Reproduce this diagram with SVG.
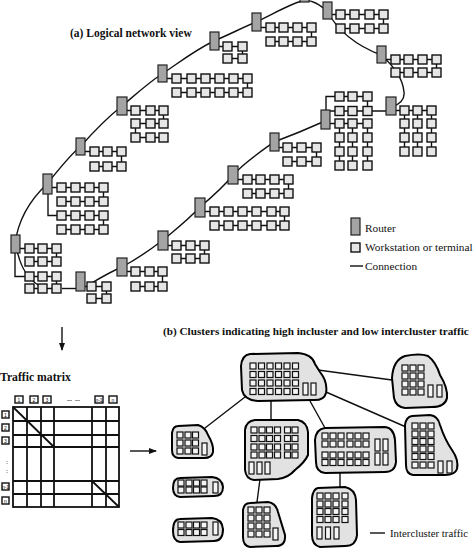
<svg xmlns="http://www.w3.org/2000/svg" xmlns:xlink="http://www.w3.org/1999/xlink" width="474" height="548" viewBox="0 0 474 548">
<style>
.ws{fill:#e6e6e6;stroke:#111;stroke-width:1.4}
.rt{fill:#a4a4a4;stroke:#222;stroke-width:1.2}
.ln{fill:none;stroke:#111;stroke-width:1.4}
.cl{fill:#e2e2e2;stroke:#000;stroke-width:2}
.sq{fill:#f4f4f4;stroke:#111;stroke-width:1.2}
.mx{fill:none;stroke:#111;stroke-width:1.8}
.hd{fill:#fff;stroke:#111;stroke-width:1.4}
.t{font-family:"Liberation Serif","Times New Roman",serif;fill:#111}
.b{font-weight:bold}
.tiny{font-family:"Liberation Sans",Arial,sans-serif;font-size:5px;fill:#111;text-anchor:middle}
</style>
<defs>
<rect id="w" width="9" height="9" class="ws"/>
<rect id="s" width="6" height="6" class="sq"/>
<rect id="tr" width="5" height="12" class="sq"/>
<marker id="ah" viewBox="0 0 8 8" refX="7" refY="4" markerWidth="8" markerHeight="8" orient="auto" markerUnits="userSpaceOnUse"><path d="M0,1 L8,4 L0,7 Z" fill="#111"/></marker>
</defs>
<rect width="474" height="548" fill="#fff"/>

<text class="t b" x="70" y="37" font-size="11.5">(a) Logical network view</text>

<g id="connectors">
<path class="ln" d="M15,244 C18,220 30,200 47,184 C60,168 70,155 80,147 C95,130 108,117 122,106 C135,95 148,83 162,74 C180,62 195,50 214,41 C228,35 242,28 256,22 C275,13 290,4 302,1 C312,-1 320,5 327,11 C340,35 360,47 381,55 C396,68 403,80 404,92 C405,100 400,104 392,107"/>
<path class="ln" d="M391,111 H330"/>
<path class="ln" d="M325,121 C305,130 290,136 274,142 C260,152 245,162 233,175 C225,185 212,197 200,207 C188,220 175,230 163,240 C150,250 135,260 122,267 C110,272 100,278 90,284"/>
<path class="ln" d="M62,288.5 H78"/>
<path class="ln" d="M17,250 C20,265 28,282 45,288.5"/>
<path class="ln" d="M20,248.5 H56.5 V261.5 H29.5 M15,253 V276.5 H56.5 V288.5 H29.5"/>
<path class="ln" d="M52,187.5 H103.5 V201.5 H61.5 M48,194 V215.5 H103.5 V229.5 H61.5"/>
<path class="ln" d="M85,151.5 H121.5 V166.5 H94.5"/>
<path class="ln" d="M127,110.5 H163.5 V123.5 H135.5 V137.5 H163.5"/>
<path class="ln" d="M167,78.5 H247.5 V92.5 H176.5"/>
<path class="ln" d="M219,46.5 H242.5 V58.5 H227.5"/>
<path class="ln" d="M261,27.5 H311.5 V41.5 H270.5"/>
<path class="ln" d="M332,14.5 H383.5 V28.5 H340.5"/>
<path class="ln" d="M386,59.5 H436.5 V72.5 H395.5"/>
<path class="ln" d="M396,110.5 H431.5 M404.5,110 V151.5 M417.5,110 V151.5 M431.5,110 V151.5"/>
<path class="ln" d="M326,110 V96.5 H367.5 V111 M330,123.5 H367.5 M339.5,123.5 V165.5 M352.5,123.5 V165.5 M367.5,123.5 V165.5"/>
<path class="ln" d="M279,147.5 H316.5 V161.5 H287.5"/>
<path class="ln" d="M238,179.5 H288.5 V193.5 H247.5"/>
<path class="ln" d="M205,211.5 H284.5 V225.5 H214.5"/>
<path class="ln" d="M168,245.5 H204.5 V258.5 H176.5"/>
<path class="ln" d="M127,271.5 H162.5 V286.5 H135.5"/>
<path class="ln" d="M85,286.5 H106.5 V298.5 H91.5"/>
<path class="ln" d="M62,327 V350" marker-end="url(#ah)"/>
<path class="ln" d="M130,451 H156" marker-end="url(#ah)"/>
<path class="ln" d="M318,370 L392,380 M326,392 L406,427 M310,401 L325,428 M271,401 V420 M245,397 L205,428 M340,472 V488 M260,479 L257,502"/>
</g>

<g id="r0"><rect class="rt" x="300" y="-15" width="9" height="17"/></g>
<g id="r1"><rect class="rt" x="11" y="235" width="9" height="18"/>
<use href="#w" x="25" y="244"/><use href="#w" x="38" y="244"/><use href="#w" x="52" y="244"/>
<use href="#w" x="25" y="257"/><use href="#w" x="38" y="257"/><use href="#w" x="52" y="257"/>
<use href="#w" x="25" y="272"/><use href="#w" x="38" y="272"/><use href="#w" x="52" y="272"/>
<use href="#w" x="25" y="284"/><use href="#w" x="38" y="284"/><use href="#w" x="52" y="284"/></g>
<g id="r2"><rect class="rt" x="43" y="174" width="9" height="20"/>
<use href="#w" x="57" y="183"/><use href="#w" x="71" y="183"/><use href="#w" x="85" y="183"/><use href="#w" x="99" y="183"/>
<use href="#w" x="57" y="197"/><use href="#w" x="71" y="197"/><use href="#w" x="85" y="197"/><use href="#w" x="99" y="197"/>
<use href="#w" x="57" y="211"/><use href="#w" x="71" y="211"/><use href="#w" x="85" y="211"/><use href="#w" x="99" y="211"/>
<use href="#w" x="57" y="225"/><use href="#w" x="71" y="225"/><use href="#w" x="85" y="225"/><use href="#w" x="99" y="225"/></g>
<g id="r3"><rect class="rt" x="76" y="138" width="9" height="17"/>
<use href="#w" x="90" y="147"/><use href="#w" x="103" y="147"/><use href="#w" x="117" y="147"/>
<use href="#w" x="90" y="162"/><use href="#w" x="103" y="162"/><use href="#w" x="117" y="162"/></g>
<g id="r4"><rect class="rt" x="117" y="97" width="10" height="18"/>
<use href="#w" x="131" y="106"/><use href="#w" x="146" y="106"/><use href="#w" x="159" y="106"/>
<use href="#w" x="131" y="119"/><use href="#w" x="146" y="119"/><use href="#w" x="159" y="119"/>
<use href="#w" x="131" y="133"/><use href="#w" x="146" y="133"/><use href="#w" x="159" y="133"/></g>
<g id="r5"><rect class="rt" x="158" y="65" width="9" height="17"/>
<use href="#w" x="172" y="74"/><use href="#w" x="187" y="74"/><use href="#w" x="201" y="74"/><use href="#w" x="215" y="74"/><use href="#w" x="229" y="74"/><use href="#w" x="243" y="74"/>
<use href="#w" x="172" y="88"/><use href="#w" x="187" y="88"/><use href="#w" x="201" y="88"/><use href="#w" x="215" y="88"/><use href="#w" x="229" y="88"/><use href="#w" x="243" y="88"/></g>
<g id="r6"><rect class="rt" x="210" y="32" width="9" height="18"/>
<use href="#w" x="223" y="42"/><use href="#w" x="238" y="42"/>
<use href="#w" x="223" y="54"/><use href="#w" x="238" y="54"/></g>
<g id="r7"><rect class="rt" x="252" y="13" width="9" height="18"/>
<use href="#w" x="266" y="23"/><use href="#w" x="279" y="23"/><use href="#w" x="293" y="23"/><use href="#w" x="307" y="23"/>
<use href="#w" x="266" y="37"/><use href="#w" x="279" y="37"/><use href="#w" x="293" y="37"/><use href="#w" x="307" y="37"/></g>
<g id="r8"><rect class="rt" x="323" y="2" width="9" height="17"/>
<use href="#w" x="336" y="10"/><use href="#w" x="350" y="10"/><use href="#w" x="365" y="10"/><use href="#w" x="379" y="10"/>
<use href="#w" x="336" y="24"/><use href="#w" x="350" y="24"/><use href="#w" x="365" y="24"/><use href="#w" x="379" y="24"/></g>
<g id="r9"><rect class="rt" x="377" y="46" width="9" height="17"/>
<use href="#w" x="391" y="55"/><use href="#w" x="404" y="55"/><use href="#w" x="418" y="55"/><use href="#w" x="432" y="55"/>
<use href="#w" x="391" y="68"/><use href="#w" x="404" y="68"/><use href="#w" x="418" y="68"/><use href="#w" x="432" y="68"/></g>
<g id="r10"><rect class="rt" x="386" y="97" width="10" height="18"/>
<use href="#w" x="400" y="106"/><use href="#w" x="413" y="106"/><use href="#w" x="427" y="106"/>
<use href="#w" x="400" y="119"/><use href="#w" x="413" y="119"/><use href="#w" x="427" y="119"/>
<use href="#w" x="400" y="133"/><use href="#w" x="413" y="133"/><use href="#w" x="427" y="133"/>
<use href="#w" x="400" y="147"/><use href="#w" x="413" y="147"/><use href="#w" x="427" y="147"/></g>
<g id="r11"><rect class="rt" x="321" y="110" width="9" height="19"/>
<use href="#w" x="335" y="92"/><use href="#w" x="348" y="92"/><use href="#w" x="363" y="92"/>
<use href="#w" x="335" y="106.5"/><use href="#w" x="348" y="106.5"/><use href="#w" x="363" y="106.5"/>
<use href="#w" x="335" y="119"/><use href="#w" x="348" y="119"/><use href="#w" x="363" y="119"/>
<use href="#w" x="335" y="133"/><use href="#w" x="348" y="133"/><use href="#w" x="363" y="133"/>
<use href="#w" x="335" y="147"/><use href="#w" x="348" y="147"/><use href="#w" x="363" y="147"/>
<use href="#w" x="335" y="161"/><use href="#w" x="348" y="161"/><use href="#w" x="363" y="161"/></g>
<g id="r12"><rect class="rt" x="270" y="133" width="9" height="18"/>
<use href="#w" x="283" y="143"/><use href="#w" x="297" y="143"/><use href="#w" x="312" y="143"/>
<use href="#w" x="283" y="157"/><use href="#w" x="297" y="157"/><use href="#w" x="312" y="157"/></g>
<g id="r13"><rect class="rt" x="228" y="166" width="10" height="18"/>
<use href="#w" x="243" y="175"/><use href="#w" x="256" y="175"/><use href="#w" x="270" y="175"/><use href="#w" x="284" y="175"/>
<use href="#w" x="243" y="189"/><use href="#w" x="256" y="189"/><use href="#w" x="270" y="189"/><use href="#w" x="284" y="189"/></g>
<g id="r14"><rect class="rt" x="195" y="198" width="10" height="19"/>
<use href="#w" x="210" y="207"/><use href="#w" x="224" y="207"/><use href="#w" x="238" y="207"/><use href="#w" x="252" y="207"/><use href="#w" x="267" y="207"/><use href="#w" x="280" y="207"/>
<use href="#w" x="210" y="221"/><use href="#w" x="224" y="221"/><use href="#w" x="238" y="221"/><use href="#w" x="252" y="221"/><use href="#w" x="267" y="221"/><use href="#w" x="280" y="221"/></g>
<g id="r15"><rect class="rt" x="158" y="231" width="10" height="19"/>
<use href="#w" x="172" y="241"/><use href="#w" x="186" y="241"/><use href="#w" x="200" y="241"/>
<use href="#w" x="172" y="254"/><use href="#w" x="186" y="254"/><use href="#w" x="200" y="254"/></g>
<g id="r16"><rect class="rt" x="117" y="258" width="10" height="18"/>
<use href="#w" x="131" y="267"/><use href="#w" x="145" y="267"/><use href="#w" x="158" y="267"/>
<use href="#w" x="131" y="282"/><use href="#w" x="145" y="282"/><use href="#w" x="158" y="282"/></g>
<g id="r17"><rect class="rt" x="76" y="272" width="9" height="19"/>
<use href="#w" x="87" y="282"/><use href="#w" x="102" y="282"/>
<use href="#w" x="87" y="294"/><use href="#w" x="102" y="294"/></g>

<g id="legend-a">
<rect class="rt" x="351" y="218" width="9" height="17"/>
<text class="t" x="365" y="232" font-size="11.3">Router</text>
<rect class="ws" x="351" y="243" width="9" height="9"/>
<text class="t" x="365" y="251" font-size="11.3">Workstation or terminal</text>
<path class="ln" d="M350,266 H363"/>
<text class="t" x="365" y="270" font-size="11.3">Connection</text>
</g>

<g id="matrix">
<text class="t b" x="0" y="381" font-size="11.7">Traffic matrix</text>
<rect class="mx" x="13" y="407" width="106" height="100"/>
<path class="mx" d="M27,407 V507 M41,407 V507 M54,407 V507 M92,407 V507 M106,407 V507 M13,421 H119 M13,435 H119 M13,447 H119 M13,481 H119 M13,494 H119 M13,407 L54,447 M92,481 L119,507"/>
<rect class="hd" x="15" y="396" width="8" height="7"/><text class="tiny" x="19" y="401.5">1</text>
<rect class="hd" x="30" y="396" width="8" height="7"/><text class="tiny" x="34" y="401.5">2</text>
<rect class="hd" x="43" y="396" width="8" height="7"/><text class="tiny" x="47" y="401.5">3</text>
<path d="M67,400.5 H72 M75,400.5 H80" stroke="#999" stroke-width="1"/>
<rect class="hd" x="95" y="396" width="8" height="7"/><text class="tiny" x="99" y="401.5" font-size="4">n-1</text>
<rect class="hd" x="109" y="396" width="8" height="7"/><text class="tiny" x="113" y="401.5">n</text>
<rect class="hd" x="2" y="411" width="7" height="7"/><text class="tiny" x="5.5" y="416.5">1</text>
<rect class="hd" x="2" y="424" width="7" height="7"/><text class="tiny" x="5.5" y="429.5">2</text>
<rect class="hd" x="2" y="437" width="7" height="7"/><text class="tiny" x="5.5" y="442.5">3</text>
<text class="t" x="6" y="464" font-size="7" fill="#999">:</text>
<text class="t" x="6" y="473" font-size="7" fill="#999">:</text>
<rect class="hd" x="2" y="483" width="7" height="7"/><text class="tiny" x="5.5" y="488.5" font-size="4">n-1</text>
<rect class="hd" x="2" y="497" width="7" height="7"/><text class="tiny" x="5.5" y="502.5">n</text>
</g>

<text class="t b" x="163" y="335" font-size="11.2">(b) Clusters indicating high incluster and low intercluster traffic</text>

<g id="c1"><path class="cl" d="M250,354 L298,353 Q312,354 315,364 L320,372 Q328,382 326,393 Q324,401 312,400 L258,401 Q244,400 242,390 L241,366 Q242,355 250,354 Z"/>
<use href="#s" x="250" y="363"/><use href="#s" x="258.5" y="363"/><use href="#s" x="267" y="363"/><use href="#s" x="275.5" y="363"/><use href="#s" x="284" y="363"/><use href="#s" x="292.5" y="363"/>
<use href="#s" x="250" y="371.5"/><use href="#s" x="258.5" y="371.5"/><use href="#s" x="267" y="371.5"/><use href="#s" x="275.5" y="371.5"/><use href="#s" x="284" y="371.5"/><use href="#s" x="292.5" y="371.5"/>
<use href="#s" x="250" y="380"/><use href="#s" x="258.5" y="380"/><use href="#s" x="267" y="380"/><use href="#s" x="275.5" y="380"/><use href="#s" x="284" y="380"/><use href="#s" x="292.5" y="380"/>
<use href="#s" x="250" y="388.5"/><use href="#s" x="258.5" y="388.5"/><use href="#s" x="267" y="388.5"/><use href="#s" x="275.5" y="388.5"/><use href="#s" x="284" y="388.5"/><use href="#s" x="292.5" y="388.5"/>
<use href="#tr" x="303" y="383"/><use href="#tr" x="311" y="383"/></g>

<g id="c2"><path class="cl" d="M405,356 Q420,353 428,356 Q436,362 440,375 Q448,388 447,398 Q445,407 432,407 L405,408 Q396,407 394,398 L392,378 Q393,360 405,356 Z"/>
<use href="#s" x="402" y="365"/><use href="#s" x="410" y="365"/><use href="#s" x="418" y="365"/>
<use href="#s" x="402" y="373"/><use href="#s" x="410" y="373"/><use href="#s" x="418" y="373"/>
<use href="#s" x="402" y="381"/><use href="#s" x="410" y="381"/><use href="#s" x="418" y="381"/>
<use href="#s" x="402" y="389"/><use href="#s" x="410" y="389"/><use href="#s" x="418" y="389"/>
<use href="#tr" x="428" y="385"/><use href="#tr" x="437" y="385"/></g>

<g id="c3"><path class="cl" d="M412,416 L430,415 Q438,416 440,425 Q445,440 452,450 Q459,460 457,469 Q455,475 445,475 L413,475 Q406,474 406,465 L405,425 Q406,417 412,416 Z"/>
<use href="#s" x="412" y="423"/><use href="#s" x="420" y="423"/><use href="#s" x="428" y="423"/>
<use href="#s" x="412" y="431"/><use href="#s" x="420" y="431"/><use href="#s" x="428" y="431"/>
<use href="#s" x="412" y="438.5"/><use href="#s" x="420" y="438.5"/><use href="#s" x="428" y="438.5"/>
<use href="#s" x="412" y="446"/><use href="#s" x="420" y="446"/><use href="#s" x="428" y="446"/>
<use href="#s" x="412" y="453.5"/><use href="#s" x="420" y="453.5"/><use href="#s" x="428" y="453.5"/>
<use href="#s" x="412" y="462"/><use href="#s" x="420" y="462"/><use href="#s" x="428" y="462"/>
<use href="#tr" x="438" y="461"/><use href="#tr" x="447" y="461"/></g>

<g id="c4"><path class="cl" d="M325,428 L385,427 Q394,428 395,440 L396,462 Q395,472 385,472 L325,473 Q316,472 316,462 L315,440 Q316,429 325,428 Z"/>
<use href="#s" x="322" y="433"/><use href="#s" x="330" y="433"/><use href="#s" x="338" y="433"/><use href="#s" x="347" y="433"/><use href="#s" x="355" y="433"/><use href="#s" x="363" y="433"/>
<use href="#s" x="322" y="441"/><use href="#s" x="330" y="441"/><use href="#s" x="338" y="441"/><use href="#s" x="347" y="441"/><use href="#s" x="355" y="441"/><use href="#s" x="363" y="441"/>
<use href="#s" x="322" y="452"/><use href="#s" x="330" y="452"/><use href="#s" x="338" y="452"/><use href="#s" x="347" y="452"/><use href="#s" x="355" y="452"/><use href="#s" x="363" y="452"/>
<use href="#s" x="322" y="459.5"/><use href="#s" x="330" y="459.5"/><use href="#s" x="338" y="459.5"/><use href="#s" x="347" y="459.5"/><use href="#s" x="355" y="459.5"/><use href="#s" x="363" y="459.5"/>
<use href="#tr" x="375" y="439"/><use href="#tr" x="383" y="439"/><use href="#tr" x="375" y="453"/><use href="#tr" x="383" y="453"/></g>

<g id="c5"><path class="cl" d="M318,488 L345,487 Q355,489 356,500 L357,535 Q356,546 345,546 L320,547 Q312,545 312,535 L312,498 Q313,489 318,488 Z"/>
<use href="#s" x="317" y="493"/><use href="#s" x="325" y="493"/><use href="#s" x="333" y="493"/><use href="#s" x="342" y="493"/>
<use href="#s" x="317" y="501"/><use href="#s" x="325" y="501"/><use href="#s" x="333" y="501"/><use href="#s" x="342" y="501"/>
<use href="#s" x="317" y="508.5"/><use href="#s" x="325" y="508.5"/><use href="#s" x="333" y="508.5"/><use href="#s" x="342" y="508.5"/>
<use href="#s" x="317" y="516.5"/><use href="#s" x="325" y="516.5"/><use href="#s" x="333" y="516.5"/><use href="#s" x="342" y="516.5"/>
<use href="#tr" x="317" y="527"/><use href="#tr" x="325.5" y="527"/><use href="#tr" x="334" y="527"/></g>

<g id="c6"><path class="cl" d="M255,420 L298,420 Q307,422 308,432 L308,455 Q305,462 295,470 Q288,478 278,479 L254,480 Q246,479 245,470 L245,430 Q246,421 255,420 Z"/>
<use href="#s" x="251" y="427"/><use href="#s" x="259" y="427"/><use href="#s" x="266.5" y="427"/><use href="#s" x="274.5" y="427"/><use href="#s" x="284.5" y="427"/><use href="#s" x="292" y="427"/>
<use href="#s" x="251" y="435.5"/><use href="#s" x="259" y="435.5"/><use href="#s" x="266.5" y="435.5"/><use href="#s" x="274.5" y="435.5"/><use href="#s" x="284.5" y="435.5"/><use href="#s" x="292" y="435.5"/>
<use href="#s" x="251" y="444"/><use href="#s" x="259" y="444"/><use href="#s" x="266.5" y="444"/><use href="#s" x="274.5" y="444"/><use href="#s" x="284.5" y="444"/><use href="#s" x="292" y="444"/>
<use href="#s" x="251" y="452"/><use href="#s" x="259" y="452"/><use href="#s" x="266.5" y="452"/><use href="#s" x="274.5" y="452"/><use href="#s" x="284.5" y="452"/><use href="#s" x="292" y="452"/>
<use href="#tr" x="249" y="462"/><use href="#tr" x="257" y="462"/><use href="#tr" x="265" y="462"/></g>

<g id="c7"><path class="cl" d="M250,503 L268,502 Q276,503 278,512 Q282,525 285,535 Q286,546 276,546 L250,547 Q243,546 243,537 L243,510 Q244,503 250,503 Z"/>
<use href="#s" x="248" y="507"/><use href="#s" x="256" y="507"/><use href="#s" x="264" y="507"/>
<use href="#s" x="248" y="515"/><use href="#s" x="256" y="515"/><use href="#s" x="264" y="515"/>
<use href="#s" x="248" y="523"/><use href="#s" x="256" y="523"/><use href="#s" x="264" y="523"/>
<use href="#s" x="248" y="531"/><use href="#s" x="256" y="531"/><use href="#s" x="264" y="531"/>
<use href="#tr" x="273" y="528"/></g>

<g id="c8"><path class="cl" d="M178,426 L198,425 Q205,427 208,435 Q214,445 213,452 Q212,458 204,458 L178,458 Q172,457 172,450 L172,433 Q173,426 178,426 Z"/>
<use href="#s" x="177" y="432"/><use href="#s" x="185" y="432"/><use href="#s" x="192.5" y="432"/>
<use href="#s" x="177" y="440"/><use href="#s" x="185" y="440"/><use href="#s" x="192.5" y="440"/>
<use href="#s" x="177" y="448"/><use href="#s" x="185" y="448"/><use href="#s" x="192.5" y="448"/>
<use href="#tr" x="202" y="443"/></g>

<g id="c9"><path class="cl" d="M180,478 L212,477 Q222,478 223,487 Q223,496 214,496 L180,497 Q173,496 173,488 Q173,478 180,478 Z"/>
<use href="#s" x="178" y="480"/><use href="#s" x="186" y="480"/><use href="#s" x="193.5" y="480"/><use href="#s" x="201" y="480"/>
<use href="#s" x="178" y="487"/><use href="#s" x="186" y="487"/><use href="#s" x="193.5" y="487"/><use href="#s" x="201" y="487"/>
<rect class="sq" x="213" y="482" width="5" height="11"/></g>

<g id="c10"><path class="cl" d="M180,519 L212,518 Q222,519 223,529 Q223,541 214,541 L180,542 Q173,541 173,531 Q173,519 180,519 Z"/>
<use href="#s" x="178" y="522"/><use href="#s" x="186" y="522"/><use href="#s" x="193.5" y="522"/><use href="#s" x="201" y="522"/>
<use href="#s" x="178" y="529.5"/><use href="#s" x="186" y="529.5"/><use href="#s" x="193.5" y="529.5"/><use href="#s" x="201" y="529.5"/>
<rect class="sq" x="213" y="522" width="5" height="13"/></g>

<g id="legend-b">
<path class="ln" d="M370,533 H385"/>
<text class="t" x="390" y="537" font-size="10.8">Intercluster traffic</text>
</g>
</svg>
